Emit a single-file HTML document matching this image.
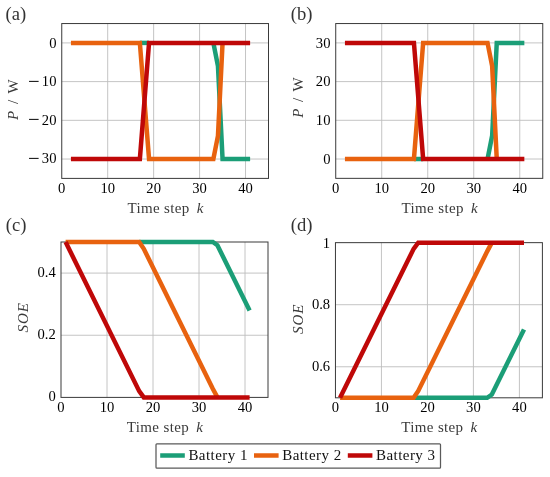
<!DOCTYPE html>
<html lang="en">
<head>
<meta charset="utf-8">
<title>Battery power and SOE</title>
<style>
html,body{margin:0;padding:0;background:#fff;}
svg{display:block;}
text{font-family:"Liberation Serif", serif;}
.t{font-size:14.6px;fill:#000;}
.l{font-size:15px;fill:#3a3a3a;letter-spacing:0.35px;}
.g{font-size:15px;fill:#111;letter-spacing:0.45px;}
.p{font-size:18.6px;fill:#333;}
.grid{stroke:#bdbdbd;stroke-width:0.9;fill:none;}
.box{stroke:#3a3a3a;stroke-width:1;fill:none;}
.ln{fill:none;stroke-width:4.5;stroke-linejoin:miter;stroke-linecap:butt;}
</style>
</head>
<body>
<svg width="550" height="477" viewBox="0 0 550 477">
<rect width="550" height="477" fill="#ffffff"/>
<!-- panel (a) -->
<g>
<path class="grid" d="M107.69 23.55V178.40M153.64 23.55V178.40M199.58 23.55V178.40M245.53 23.55V178.40M61.75 42.91H268.50M61.75 81.62H268.50M61.75 120.33H268.50M61.75 159.04H268.50"/>
<rect class="box" x="61.75" y="23.55" width="206.75" height="154.85"/>
<polyline class="ln" stroke="#1b9e77" points="139.86,42.91 149.04,42.91"/>
<polyline class="ln" stroke="#1b9e77" points="213.37,42.91 217.96,66.13 222.56,159.04 250.12,159.04"/>
<polyline class="ln" stroke="#e8620f" points="70.94,42.91 139.86,42.91 149.04,159.04 213.37,159.04 217.96,135.82 222.56,42.91"/>
<polyline class="ln" stroke="#bf0808" points="70.94,159.04 139.86,159.04 149.04,42.91 250.12,42.91"/>
<text class="t" text-anchor="middle" x="61.75" y="193.30">0</text>
<text class="t" text-anchor="middle" x="107.69" y="193.30">10</text>
<text class="t" text-anchor="middle" x="153.64" y="193.30">20</text>
<text class="t" text-anchor="middle" x="199.58" y="193.30">30</text>
<text class="t" text-anchor="middle" x="245.53" y="193.30">40</text>
<text class="t" text-anchor="end" x="56.45" y="47.51">0</text>
<text class="t" text-anchor="end" x="56.45" y="85.92"><tspan font-size="20.6" dy="1.6">−</tspan><tspan dy="-1.6" dx="2.2">10</tspan></text>
<text class="t" text-anchor="end" x="56.45" y="124.63"><tspan font-size="20.6" dy="1.6">−</tspan><tspan dy="-1.6" dx="2.2">20</tspan></text>
<text class="t" text-anchor="end" x="56.45" y="163.34"><tspan font-size="20.6" dy="1.6">−</tspan><tspan dy="-1.6" dx="2.2">30</tspan></text>
<text class="l" text-anchor="middle" x="165.62" y="212.60">Time step <tspan dx="3" font-style="italic">k</tspan></text>
<text class="l" text-anchor="middle" word-spacing="2.2" transform="translate(18.20 99.48) rotate(-90)"><tspan font-style="italic">P</tspan> / W</text>
<text class="p" x="5.60" y="20.30">(a)</text>
</g>
<!-- panel (b) -->
<g>
<path class="grid" d="M381.73 23.55V178.35M427.74 23.55V178.35M473.74 23.55V178.35M519.75 23.55V178.35M335.73 42.90H542.75M335.73 81.60H542.75M335.73 120.30H542.75M335.73 159.00H542.75"/>
<rect class="box" x="335.73" y="23.55" width="207.02" height="154.80"/>
<polyline class="ln" stroke="#1b9e77" points="413.94,159.00 423.14,159.00"/>
<polyline class="ln" stroke="#1b9e77" points="487.54,159.00 492.15,135.78 496.75,42.90 524.35,42.90"/>
<polyline class="ln" stroke="#e8620f" points="344.93,159.00 413.94,159.00 423.14,42.90 487.54,42.90 492.15,66.12 496.75,159.00"/>
<polyline class="ln" stroke="#bf0808" points="344.93,42.90 413.94,42.90 423.14,159.00 524.35,159.00"/>
<text class="t" text-anchor="middle" x="335.73" y="193.30">0</text>
<text class="t" text-anchor="middle" x="381.73" y="193.30">10</text>
<text class="t" text-anchor="middle" x="427.74" y="193.30">20</text>
<text class="t" text-anchor="middle" x="473.74" y="193.30">30</text>
<text class="t" text-anchor="middle" x="519.75" y="193.30">40</text>
<text class="t" text-anchor="end" x="330.43" y="47.70">30</text>
<text class="t" text-anchor="end" x="330.43" y="86.40">20</text>
<text class="t" text-anchor="end" x="330.43" y="125.10">10</text>
<text class="t" text-anchor="end" x="330.43" y="163.80">0</text>
<text class="l" text-anchor="middle" x="439.74" y="212.60">Time step <tspan dx="3" font-style="italic">k</tspan></text>
<text class="l" text-anchor="middle" word-spacing="2.2" transform="translate(303.10 97.35) rotate(-90)"><tspan font-style="italic">P</tspan> / W</text>
<text class="p" x="290.70" y="20.30">(b)</text>
</g>
<!-- panel (c) -->
<g>
<path class="grid" d="M107.00 242.00V397.40M153.00 242.00V397.40M199.00 242.00V397.40M245.00 242.00V397.40M61.00 273.08H268.00M61.00 335.24H268.00"/>
<rect class="box" x="61.00" y="242.00" width="207.00" height="155.40"/>
<polyline class="ln" stroke="#1b9e77" points="139.20,242.00 212.80,242.00 217.40,245.26 249.60,310.53"/>
<polyline class="ln" stroke="#e8620f" points="65.60,242.00 139.20,242.00 143.80,248.84 212.80,388.70 217.40,397.40"/>
<polyline class="ln" stroke="#bf0808" points="65.60,242.00 139.20,391.18 143.80,397.40 249.60,397.40"/>
<text class="t" text-anchor="middle" x="61.00" y="412.00">0</text>
<text class="t" text-anchor="middle" x="107.00" y="412.00">10</text>
<text class="t" text-anchor="middle" x="153.00" y="412.00">20</text>
<text class="t" text-anchor="middle" x="199.00" y="412.00">30</text>
<text class="t" text-anchor="middle" x="245.00" y="412.00">40</text>
<text class="t" text-anchor="end" x="55.70" y="277.08">0.4</text>
<text class="t" text-anchor="end" x="55.70" y="339.24">0.2</text>
<text class="t" text-anchor="end" x="55.70" y="401.40">0</text>
<text class="l" text-anchor="middle" x="165.00" y="431.70">Time step <tspan dx="3" font-style="italic">k</tspan></text>
<text class="l" text-anchor="middle" font-style="italic" style="letter-spacing:0.9px" transform="translate(28.20 317.40) rotate(-90)">SOE</text>
<text class="p" x="5.80" y="231.00">(c)</text>
</g>
<!-- panel (d) -->
<g>
<path class="grid" d="M381.44 242.65V397.80M427.43 242.65V397.80M473.42 242.65V397.80M519.41 242.65V397.80M335.45 304.71H542.40M335.45 366.77H542.40"/>
<rect class="box" x="335.45" y="242.65" width="206.95" height="155.15"/>
<polyline class="ln" stroke="#1b9e77" points="413.63,397.80 487.21,397.80 491.81,394.54 524.00,329.38"/>
<polyline class="ln" stroke="#e8620f" points="340.05,397.80 413.63,397.80 418.23,390.97 487.21,251.34 491.81,242.65"/>
<polyline class="ln" stroke="#bf0808" points="340.05,397.80 413.63,248.86 418.23,242.65 524.00,242.65"/>
<text class="t" text-anchor="middle" x="335.45" y="412.00">0</text>
<text class="t" text-anchor="middle" x="381.44" y="412.00">10</text>
<text class="t" text-anchor="middle" x="427.43" y="412.00">20</text>
<text class="t" text-anchor="middle" x="473.42" y="412.00">30</text>
<text class="t" text-anchor="middle" x="519.41" y="412.00">40</text>
<text class="t" text-anchor="end" x="330.15" y="247.55">1</text>
<text class="t" text-anchor="end" x="330.15" y="308.81">0.8</text>
<text class="t" text-anchor="end" x="330.15" y="370.87">0.6</text>
<text class="l" text-anchor="middle" x="439.42" y="431.70">Time step <tspan dx="3" font-style="italic">k</tspan></text>
<text class="l" text-anchor="middle" font-style="italic" style="letter-spacing:0.9px" transform="translate(302.70 318.83) rotate(-90)">SOE</text>
<text class="p" x="290.70" y="231.00">(d)</text>
</g>
<!-- legend -->
<g>
<rect x="156" y="443.9" width="284.5" height="24.2" rx="0.9" fill="#fff" stroke="#5a5a5a" stroke-width="1.25"/>
<line x1="160.20" y1="455.5" x2="184.80" y2="455.5" stroke="#1b9e77" stroke-width="4.5"/>
<text class="g" x="188.40" y="459.7">Battery 1</text>
<line x1="254.00" y1="455.5" x2="278.60" y2="455.5" stroke="#e8620f" stroke-width="4.5"/>
<text class="g" x="282.20" y="459.7">Battery 2</text>
<line x1="347.80" y1="455.5" x2="372.40" y2="455.5" stroke="#bf0808" stroke-width="4.5"/>
<text class="g" x="376.00" y="459.7">Battery 3</text>
</g>
</svg>
</body>
</html>
